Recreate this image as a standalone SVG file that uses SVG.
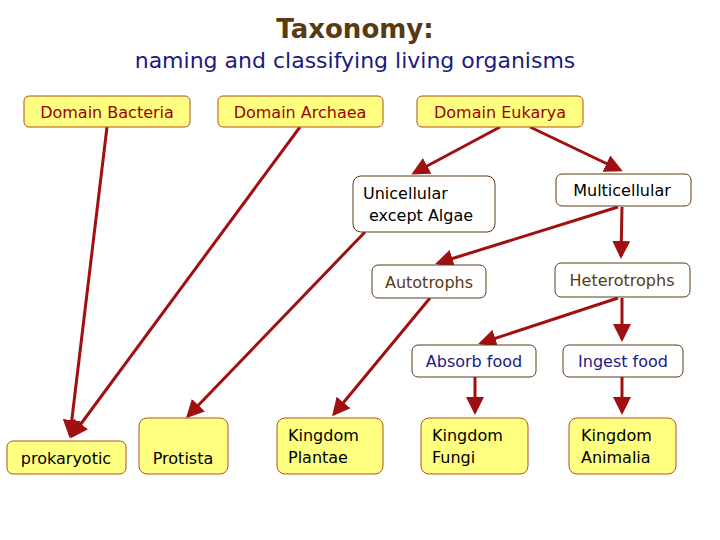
<svg xmlns="http://www.w3.org/2000/svg" width="720" height="540" viewBox="0 0 720 540">
<style>
text{font-family:"DejaVu Sans",Verdana,sans-serif;font-size:16px}
.y{fill:#ffff80;stroke:#b05020;stroke-width:1}
.w{fill:#fff;stroke:#5a3a1a;stroke-width:1}
.r{fill:#a00000}.k{fill:#000}.b{fill:#5a3a10}.n{fill:#1a1a80}
#c line{stroke:#a01010;stroke-width:3;marker-end:url(#a)}
</style>
<defs><marker id="a" markerWidth="6" markerHeight="6" refX="5" refY="3" orient="auto" markerUnits="strokeWidth"><path d="M0,0L6,3L0,6z" fill="#a01010"/></marker></defs>
<rect width="720" height="540" fill="#fff"/>
<text x="355" y="38" text-anchor="middle" style="font-size:26px;font-weight:bold" class="b">Taxonomy:</text>
<text x="355" y="68" text-anchor="middle" style="font-size:22px" class="n">naming and classifying living organisms</text>
<g id="c">
<line x1="107" y1="127" x2="70" y2="435"/>
<line x1="300" y1="127" x2="72" y2="436"/>
<line x1="500" y1="127" x2="414" y2="173"/>
<line x1="530" y1="127" x2="620" y2="170"/>
<line x1="622" y1="207" x2="621" y2="256"/>
<line x1="618" y1="207" x2="438" y2="263"/>
<line x1="365" y1="232" x2="188" y2="416"/>
<line x1="430" y1="298" x2="334" y2="414"/>
<line x1="618" y1="298" x2="481" y2="343"/>
<line x1="622" y1="298" x2="622" y2="339"/>
<line x1="475" y1="377" x2="475" y2="412"/>
<line x1="622" y1="377" x2="622" y2="412"/>
</g>
<g id="bac"><rect class="y" x="24" y="96" width="166" height="31" rx="5"/><text class="r" x="107" y="118" text-anchor="middle">Domain Bacteria</text></g>
<g id="arc"><rect class="y" x="218" y="96" width="165" height="31" rx="5"/><text class="r" x="300" y="118" text-anchor="middle">Domain Archaea</text></g>
<g id="euk"><rect class="y" x="417" y="96" width="166" height="31" rx="5"/><text class="r" x="500" y="118" text-anchor="middle">Domain Eukarya</text></g>
<g id="uni"><rect class="w" x="353" y="176" width="142" height="56" rx="8"/><text class="k" x="363" y="199">Unicellular</text><text class="k" x="369" y="221">except Algae</text></g>
<g id="mul"><rect class="w" x="556" y="174" width="135" height="32" rx="6"/><text class="k" x="622" y="196" text-anchor="middle">Multicellular</text></g>
<g id="aut"><rect class="w" x="372" y="265" width="114" height="33" rx="6"/><text class="b" x="429" y="288" text-anchor="middle">Autotrophs</text></g>
<g id="het"><rect class="w" x="555" y="263" width="135" height="34" rx="6"/><text class="b" x="622" y="286" text-anchor="middle">Heterotrophs</text></g>
<g id="abs"><rect class="w" x="412" y="345" width="124" height="32" rx="6"/><text class="n" x="474" y="367" text-anchor="middle">Absorb food</text></g>
<g id="ing"><rect class="w" x="563" y="345" width="120" height="32" rx="6"/><text class="n" x="623" y="367" text-anchor="middle">Ingest food</text></g>
<g id="pro"><rect class="y" x="7" y="441" width="119" height="33" rx="6"/><text class="k" x="66" y="464" text-anchor="middle">prokaryotic</text></g>
<g id="prt"><rect class="y" x="139" y="418" width="89" height="56" rx="8"/><text class="k" x="183" y="464" text-anchor="middle">Protista</text></g>
<g id="pla"><rect class="y" x="277" y="418" width="106" height="56" rx="8"/><text class="k" x="288" y="441">Kingdom</text><text class="k" x="288" y="463">Plantae</text></g>
<g id="fun"><rect class="y" x="421" y="418" width="107" height="56" rx="8"/><text class="k" x="432" y="441">Kingdom</text><text class="k" x="432" y="463">Fungi</text></g>
<g id="ani"><rect class="y" x="569" y="418" width="107" height="56" rx="8"/><text class="k" x="581" y="441">Kingdom</text><text class="k" x="581" y="463">Animalia</text></g>
</svg>
